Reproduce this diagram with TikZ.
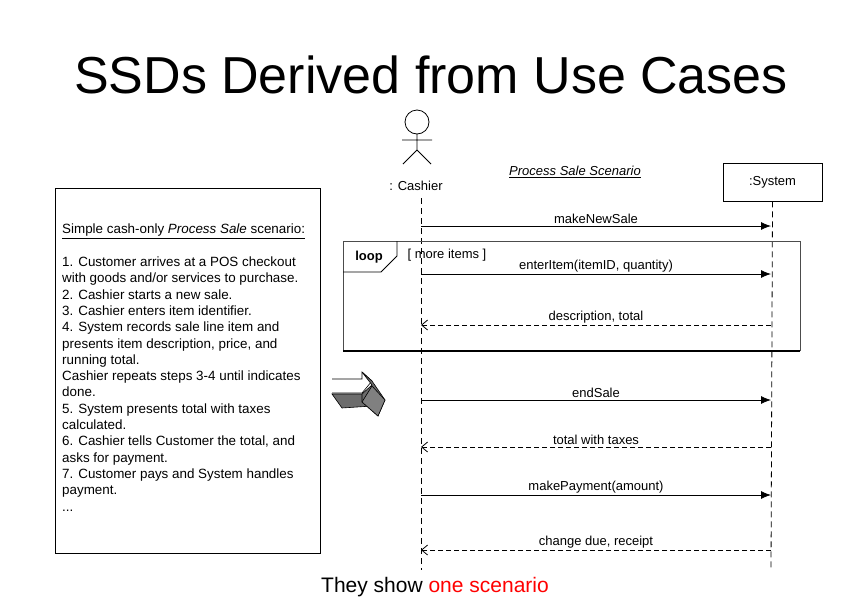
\documentclass[tikz,border=0pt]{standalone}
\usepackage{fontspec}
\setmainfont{Liberation Sans}
\usetikzlibrary{arrows.meta}
\begin{document}
\begin{tikzpicture}[x=1pt,y=-1pt,
  msg/.style={-{Latex[length=10pt,width=8pt]},line width=0.8pt},
  ret/.style={-{Straight Barb[length=6pt,width=10pt]},dashed,dash pattern=on 5pt off 3pt,line width=0.8pt},
  lbl/.style={font=\fontsize{13}{15}\selectfont,above,inner sep=1.5pt},
  life/.style={dashed,dash pattern=on 6pt off 4pt,line width=0.8pt}]
\useasboundingbox (0,0) rectangle (847,598);
\begin{scope}
\clip (0,0) rectangle (847,598);
\node (title) at (431,75) {\fontsize{52}{60}\selectfont SSDs Derived from Use Cases};
% actor
\draw[line width=0.8pt] (417,122) circle (12);
\draw[line width=0.8pt] (417,134) -- (417,150) (402,140) -- (432,140) (417,150) -- (403,164) (417,150) -- (431,164);
\node (cashier) at (416,186) {\fontsize{13}{15}\selectfont : Cashier};
\node (scen) at (575,172) {\fontsize{13}{15}\selectfont\itshape\underline{Process Sale Scenario}};
\node[draw,line width=0.8pt,minimum width=99pt,minimum height=38pt] (sys) at (772.5,182) {\fontsize{13}{15}\selectfont :System};
\coordinate (ct) at (421,198); \coordinate (cb) at (421,570);
\coordinate (sb) at (771,570);
\draw[life] (ct) -- (cb);
\draw[life] (sys.south) -- (sb);
% text box
\node[draw,line width=0.8pt,minimum width=265pt,minimum height=365pt] (box) at (187.5,370.5) {};
\node[anchor=north west,align=left,inner sep=0pt,font=\fontsize{13.4}{16.3}\selectfont] (txt) at (62,224) {\underline{Simple cash-only \textit{Process Sale} scenario:}\\
\mbox{}\\
1. Customer arrives at a POS checkout\\
with goods and/or services to purchase.\\
2. Cashier starts a new sale.\\
3. Cashier enters item identifier.\\
4. System records sale line item and\\
presents item description, price, and\\
running total.\\
Cashier repeats steps 3-4 until indicates\\
done.\\
5. System presents total with taxes\\
calculated.\\
6. Cashier tells Customer the total, and\\
asks for payment.\\
7. Customer pays and System handles\\
payment.\\
...};
% loop frame
\draw[line width=0.8pt,gray!60!black] (800,351) -- (800,241) -- (343,241) -- (343,351);
\draw[line width=1.6pt] (343,351) -- (800,351);
\draw[line width=0.8pt] (343,272) -- (381,272) -- (397,256) -- (397,241);
\node[font=\fontsize{13}{15}\selectfont\bfseries] (loop) at (369,257) {loop};
\node[font=\fontsize{13}{15}\selectfont] (guard) at (447,255) {[ more items ]};
% messages
\foreach \y/\t/\s in {226/makeNewSale/msg,274/{enterItem(itemID, quantity)}/msg,400/endSale/msg,495/makePayment(amount)/msg}{
  \coordinate (a) at (421,\y); \coordinate (b) at (771,\y);
  \draw[\s] (a) -- node[lbl] {\t} (b);
}
\foreach \y/\t in {325/{description, total},447/total with taxes,550/{change due, receipt}}{
  \coordinate (a) at (771,\y); \coordinate (b) at (421,\y);
  \draw[ret] (a) -- node[lbl] {\t} (b);
}
% 3D arrow
\draw[fill=white,line width=0.6pt] (332,379) -- (362,379) -- (362,372) -- (372,381) -- (362,393) -- (332,393);
\draw[fill=gray!85!black,line width=0.6pt] (332,394) -- (362,394) -- (372,406) -- (342,408) -- cycle;
\draw[fill=gray!85!black,line width=0.6pt] (362,372) -- (372,381) -- (385,400) -- (378,416) -- (362,402) -- (362,394) -- (372,385) -- cycle;
\draw[fill=gray,line width=0.6pt] (362,402) -- (372,386) -- (385,400) -- (378,416) -- cycle;
\node[anchor=base,font=\fontsize{21}{24}\selectfont] (foot) at (435,592) {They show \textcolor{red}{one scenario}};
\end{scope}
\end{tikzpicture}
\end{document}
